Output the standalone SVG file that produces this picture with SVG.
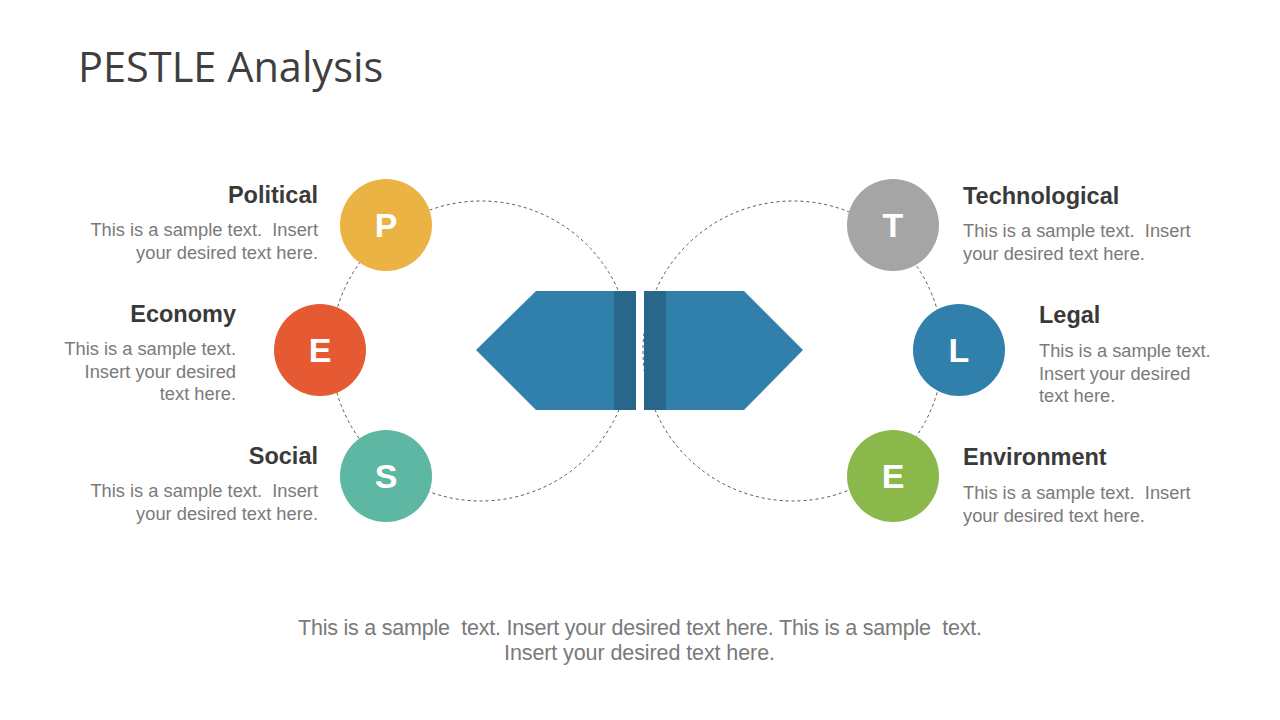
<svg xmlns="http://www.w3.org/2000/svg" width="1280" height="720" viewBox="0 0 1280 720">
<style>
text{white-space:pre}
.h{font-family:"Liberation Sans",Arial,sans-serif;font-weight:bold;font-size:23.5px;fill:#3a3a3a}
.b{font-family:"Liberation Sans",Arial,sans-serif;font-size:18.3px;fill:#7a7a7a}
.f{font-family:"Liberation Sans",Arial,sans-serif;font-size:21.5px;fill:#7a7a7a}
.l{font-family:"Liberation Sans",Arial,sans-serif;font-weight:bold;font-size:34px;fill:#fff;text-anchor:middle}
.d{fill:none;stroke:#555;stroke-width:1;stroke-dasharray:3 3}
</style>
<rect width="1280" height="720" fill="#fff"/>
<text x="78" y="82" font-family="'Open Sans','Liberation Sans',sans-serif" font-size="41.5" fill="#3f3f3f">PESTLE Analysis</text>
<g id="connectors">
<circle class="d" cx="481" cy="351" r="150"/>
<circle class="d" cx="793" cy="351" r="150"/>
</g>
<g id="arrow-left">
<polygon points="476,350 536,291 636,291 636,410 536,410" fill="#3080ab"/>
<rect x="614" y="291" width="22" height="119" fill="#28678a"/>
</g>
<g id="arrow-right">
<polygon points="644,291 744,291 803,350 744,410 644,410" fill="#3080ab"/>
<rect x="644" y="291" width="22" height="119" fill="#28678a"/>
</g>
<g id="P"><circle cx="386" cy="225" r="46" fill="#ebb244"/><text class="l" x="386" y="237">P</text>
<text class="h" x="318" y="203" text-anchor="end">Political</text>
<text class="b" x="318" y="236" text-anchor="end">This is a sample text.  Insert</text>
<text class="b" x="318" y="259" text-anchor="end">your desired text here.</text></g>
<g id="E1"><circle cx="320" cy="350" r="46" fill="#e55a33"/><text class="l" x="320" y="362">E</text>
<text class="h" x="236" y="322" text-anchor="end">Economy</text>
<text class="b" x="236" y="355" text-anchor="end">This is a sample text.</text>
<text class="b" x="236" y="378" text-anchor="end">Insert your desired</text>
<text class="b" x="236" y="400" text-anchor="end">text here.</text></g>
<g id="S"><circle cx="386" cy="476" r="46" fill="#5db7a2"/><text class="l" x="386" y="488">S</text>
<text class="h" x="318" y="464" text-anchor="end">Social</text>
<text class="b" x="318" y="497" text-anchor="end">This is a sample text.  Insert</text>
<text class="b" x="318" y="520" text-anchor="end">your desired text here.</text></g>
<g id="T"><circle cx="893" cy="225" r="46" fill="#a5a5a5"/><text class="l" x="893" y="237">T</text>
<text class="h" x="963" y="204">Technological</text>
<text class="b" x="963" y="237">This is a sample text.  Insert</text>
<text class="b" x="963" y="260">your desired text here.</text></g>
<g id="L"><circle cx="959" cy="350" r="46" fill="#3080ab"/><text class="l" x="959" y="362">L</text>
<text class="h" x="1039" y="323">Legal</text>
<text class="b" x="1039" y="357">This is a sample text.</text>
<text class="b" x="1039" y="380">Insert your desired</text>
<text class="b" x="1039" y="402">text here.</text></g>
<g id="E2"><circle cx="893" cy="476" r="46" fill="#8bb84a"/><text class="l" x="893" y="488">E</text>
<text class="h" x="963" y="465">Environment</text>
<text class="b" x="963" y="499">This is a sample text.  Insert</text>
<text class="b" x="963" y="522">your desired text here.</text></g>
<g id="footer">
<text class="f" x="298" y="635" textLength="684" lengthAdjust="spacing">This is a sample  text. Insert your desired text here. This is a sample  text.</text>
<text class="f" x="504" y="660" textLength="271" lengthAdjust="spacing">Insert your desired text here.</text>
</g>
</svg>
